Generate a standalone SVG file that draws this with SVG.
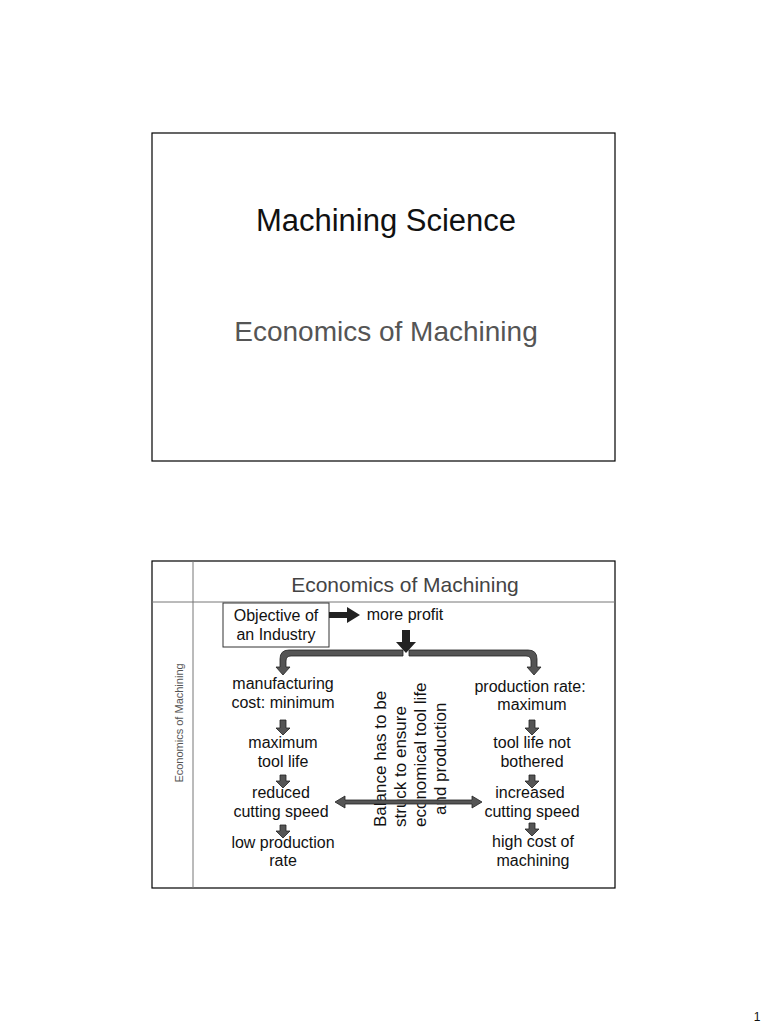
<svg xmlns="http://www.w3.org/2000/svg" width="768" height="1024" viewBox="0 0 768 1024">
<style>
text{font-family:"Liberation Sans",Arial,sans-serif;fill:#111}
.t{font-size:16px;text-anchor:middle}
.g{fill:#555;stroke:#222;stroke-width:0.8}
</style>
<rect width="768" height="1024" fill="#fff"/>
<g id="slide1">
<rect x="152" y="133" width="463" height="328" fill="none" stroke="#000" stroke-width="1.2"/>
<text x="386" y="231" style="font-size:31px;text-anchor:middle">Machining Science</text>
<text x="386" y="341" style="font-size:28px;text-anchor:middle;fill:#555">Economics of Machining</text>
</g>
<g id="slide2">
<rect x="152" y="561" width="463" height="327" fill="none" stroke="#000" stroke-width="1.2"/>
<line x1="193" y1="561" x2="193" y2="888" stroke="#777"/>
<line x1="152" y1="602" x2="615" y2="602" stroke="#777"/>
<text x="405" y="592" style="font-size:21px;text-anchor:middle;fill:#444">Economics of Machining</text>
<text transform="translate(183,723) rotate(-90)" style="font-size:11px;text-anchor:middle;fill:#555">Economics of Machining</text>
</g>
<g id="objective"><rect x="223" y="603" width="106" height="44" fill="#fff" stroke="#333"/>
<text class="t" x="276" y="621">Objective of</text><text class="t" x="276" y="640">an Industry</text></g>
<g id="profit"><text class="t" x="405" y="620">more profit</text></g>
<g id="left">
<text class="t" x="283" y="689">manufacturing</text><text class="t" x="283" y="708">cost: minimum</text>
<text class="t" x="283" y="748">maximum</text><text class="t" x="283" y="767">tool life</text>
<text class="t" x="281" y="798">reduced</text><text class="t" x="281" y="817">cutting speed</text>
<text class="t" x="283" y="848">low production</text><text class="t" x="283" y="866">rate</text>
</g>
<g id="right">
<text class="t" x="530" y="692">production rate:</text><text class="t" x="532" y="710">maximum</text>
<text class="t" x="532" y="748">tool life not</text><text class="t" x="532" y="767">bothered</text>
<text class="t" x="530" y="798">increased</text><text class="t" x="532" y="817">cutting speed</text>
<text class="t" x="533" y="847">high cost of</text><text class="t" x="533" y="866">machining</text>
</g>
<g id="balance" style="font-size:17px">
<text transform="translate(386,827) rotate(-90)">Balance has to be</text>
<text transform="translate(406,827) rotate(-90)">struck to ensure</text>
<text transform="translate(426,827) rotate(-90)">economical tool life</text>
<text transform="translate(446,815) rotate(-90)">and production</text>
</g>
<g id="connectors">
<path d="M329,612h18v-5l13,8l-13,8v-5h-18z" fill="#222"/>
<path d="M402,630h8v12h6l-10,11l-10,-11h6z" fill="#222"/>
<path class="g" d="M403,650v6h-112q-5,0-5,5v6h4l-7,8l-7,-8h4v-8q0-9,9-9z"/>
<path class="g" d="M409,650v6h117q5,0,5,5v6h-4l7,8l7,-8h-4v-8q0-9,-9-9z"/>
<path class="g" d="M280,720h6v8h4l-7,7l-7,-7h4z"/>
<path class="g" d="M280,775h6v6h4l-7,7l-7,-7h4z"/>
<path class="g" d="M280,825h6v6h4l-7,7l-7,-7h4z"/>
<path class="g" d="M529,720h6v8h4l-7,7l-7,-7h4z"/>
<path class="g" d="M529,775h6v6h4l-7,7l-7,-7h4z"/>
<path class="g" d="M529,823h6v6h4l-7,7l-7,-7h4z"/>
<path class="g" d="M335,802l10,-6v4h127v-4l10,6l-10,6v-4h-127v4z"/>
</g>
<text x="757" y="1021" style="font-size:12px;text-anchor:middle">1</text>
</svg>
